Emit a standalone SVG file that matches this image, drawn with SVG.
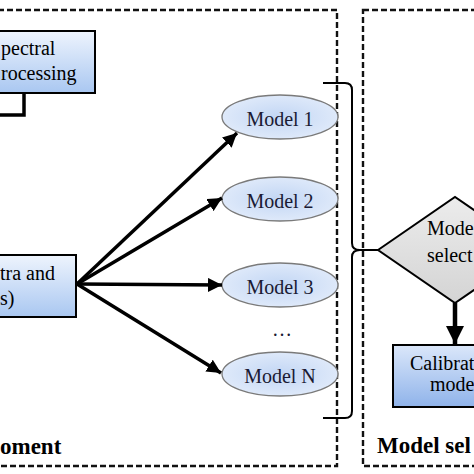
<svg xmlns="http://www.w3.org/2000/svg" width="474" height="474" viewBox="0 0 474 474">
<defs>
<linearGradient id="gBox" x1="0" y1="0" x2="0" y2="1">
<stop offset="0" stop-color="#eef4fd"/>
<stop offset="1" stop-color="#a9c7f1"/>
</linearGradient>
<linearGradient id="gCal" x1="0" y1="0" x2="0" y2="1">
<stop offset="0" stop-color="#dbe7fa"/>
<stop offset="1" stop-color="#8fb3ea"/>
</linearGradient>
<radialGradient id="gEll" cx="0.5" cy="0.5" r="0.6">
<stop offset="0" stop-color="#c2d6f4"/>
<stop offset="1" stop-color="#e4edfb"/>
</radialGradient>
<linearGradient id="gDia" x1="0" y1="0" x2="0" y2="1">
<stop offset="0" stop-color="#ececec"/>
<stop offset="1" stop-color="#d4d4d4"/>
</linearGradient>
<marker id="ah" viewBox="0 0 10 10" refX="10" refY="5" markerWidth="4" markerHeight="4" markerUnits="strokeWidth" orient="auto">
<path d="M0,0 L10,5 L0,10 z" fill="#000"/>
</marker>
</defs>
<style>
.dash{fill:none;stroke:#111;stroke-width:2.4;stroke-dasharray:6 3}
.box{stroke:#000;stroke-width:2}
.ell{fill:url(#gEll);stroke:#7a7a7a;stroke-width:1.3}
text{font-family:'Liberation Serif','DejaVu Serif',serif}
.t{font-size:20px;fill:#000}
.m{font-size:20px;fill:#1a1a33;text-anchor:middle}
.b{font-size:23px;font-weight:bold;fill:#000}
.ln{fill:none;stroke:#000;stroke-width:3.5}
</style>
<rect width="474" height="474" fill="#fff"/>

<g id="panel-dev">
<rect class="dash" x="-20" y="10" width="357" height="456"/>
<text class="b" x="0" y="454">oment</text>
</g>
<g id="panel-sel">
<rect class="dash" x="363" y="10" width="140" height="456"/>
<text class="b" x="377" y="453">Model sel</text>
</g>

<g id="node-preprocessing">
<rect class="box" x="-60" y="31" width="155" height="62" fill="url(#gBox)"/>
<text class="t" x="1" y="55">pectral</text>
<text class="t" x="1" y="80">rocessing</text>
</g>

<g id="node-data">
<rect class="box" x="-60" y="255" width="136" height="62" fill="url(#gBox)"/>
<text class="t" x="0" y="280">tra and</text>
<text class="t" x="0" y="305">s)</text>
</g>

<g id="node-model1">
<ellipse class="ell" cx="280" cy="117" rx="58" ry="22"/>
<text class="m" x="280" y="126">Model 1</text>
</g>
<g id="node-model2">
<ellipse class="ell" cx="280" cy="199" rx="58" ry="22"/>
<text class="m" x="280" y="208">Model 2</text>
</g>
<g id="node-model3">
<ellipse class="ell" cx="280" cy="285" rx="58" ry="22"/>
<text class="m" x="280" y="294">Model 3</text>
</g>
<g id="node-dots">
<text class="m" x="282" y="336">…</text>
</g>
<g id="node-modelN">
<ellipse class="ell" cx="280" cy="374" rx="58" ry="22"/>
<text class="m" x="280" y="383">Model N</text>
</g>

<g id="node-selection">
<polygon points="378,250 455,197 532,250 455,303" fill="url(#gDia)" stroke="#000" stroke-width="2"/>
<text class="t" x="427" y="235">Mode</text>
<text class="t" x="427" y="262">select</text>
</g>

<g id="node-calibration">
<rect class="box" x="393" y="345" width="124" height="62" fill="url(#gCal)"/>
<text class="t" x="410" y="370">Calibrat</text>
<text class="t" x="430" y="391">mode</text>
</g>

<g id="connectors">
<path class="ln" d="M24,93 V115 H-5"/>
<line class="ln" x1="77" y1="284" x2="237" y2="133" marker-end="url(#ah)"/>
<line class="ln" x1="77" y1="284" x2="222" y2="198" marker-end="url(#ah)"/>
<line class="ln" x1="77" y1="284" x2="222" y2="285" marker-end="url(#ah)"/>
<line class="ln" x1="77" y1="284" x2="221" y2="373" marker-end="url(#ah)"/>
<path fill="none" stroke="#000" stroke-width="2" d="M323,83 H345 Q352,83 352,90 V243 Q352,250 360,250 Q352,250 352,257 V411 Q352,418 345,418 H323"/>
<line stroke="#000" stroke-width="2" x1="360" y1="250" x2="378" y2="250"/>
<line stroke="#000" stroke-width="4.5" x1="455" y1="303" x2="455" y2="344" marker-end="url(#ah)"/>
</g>
</svg>
